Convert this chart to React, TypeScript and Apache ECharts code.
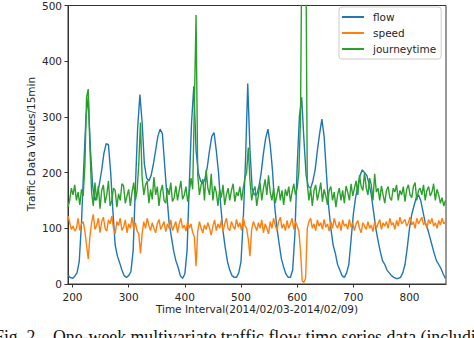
import React, { useEffect, useRef } from "react";
import * as echarts from "echarts";

// Time index (15-min intervals). Flow read every 4 intervals, speed / journeytime every 3.
const X_START = 192;
const FLOW_STEP = 4;
const NOISY_STEP = 3;

const xTicks = [200, 300, 400, 500, 600, 700, 800];

const flow = [
  15, 12, 10, 14, 20, 40, 110, 210, 300, 335,
  240, 175, 150, 160, 180, 205, 235, 252, 250, 200,
  130, 70, 50, 38, 25, 15, 12, 15, 22, 60,
  175, 280, 340, 290, 215, 190, 185, 195, 215, 240,
  265, 278, 270, 215, 160, 110, 85, 60, 42, 30,
  15, 10, 18, 60, 180, 290, 355, 240, 200, 185,
  180, 190, 210, 240, 265, 272, 240, 200, 140, 95,
  65, 40, 25, 15, 12, 12, 20, 40, 115, 220,
  360, 240, 170, 160, 160, 175, 200, 235, 262, 278,
  250, 205, 140, 100, 72, 45, 30, 18, 12, 12,
  25, 90, 210, 300, 335, 260, 195, 175, 172, 185,
  205, 240, 270, 296, 265, 200, 140, 100, 70, 55,
  35, 25, 15, 12, 20, 35, 80, 125, 155, 175,
  195, 205, 200, 195, 180, 160, 130, 100, 78, 58,
  42, 35, 25, 20, 15, 12, 10, 10, 12, 20,
  35, 65, 100, 125, 140, 155, 160, 150, 130, 110,
  100, 85, 70, 55, 42, 35, 28, 18, 10,
];

const speed = [
  122, 110, 98, 104, 95, 100, 118, 96, 108, 112,
  95, 70, 45, 85, 110, 125, 98, 105, 118, 92,
  112, 120, 100, 95, 115, 108, 122, 100, 90, 112,
  105, 118, 96, 102, 115, 92, 108, 100, 120, 98,
  110, 95, 90, 55, 90, 112, 100, 118, 105, 96,
  110, 100, 92, 108, 116, 98, 105, 112, 94, 108,
  100, 115, 96, 104, 112, 92, 108, 118, 100, 106,
  95, 112, 100, 108, 92, 85, 32, 95, 112, 100,
  92, 106, 98, 110, 100, 88, 104, 115, 96, 108,
  100, 114, 94, 108, 118, 100, 96, 112, 104, 98,
  116, 102, 110, 96, 120, 105, 100, 80, 50, 98,
  112, 104, 96, 110, 100, 115, 92, 108, 100, 90,
  112, 100, 118, 106, 96, 112, 120, 100, 108, 96,
  114, 100, 108, 118, 98, 112, 104, 95, 60, 5,
  3, 10, 100, 112, 118, 100, 108, 96, 115, 104,
  110, 98, 116, 102, 108, 95, 112, 100, 118, 106,
  100, 112, 96, 115, 104, 108, 98, 116, 102, 110,
  96, 108, 114, 100, 92, 110, 104, 98, 112, 100,
  106, 94, 112, 100, 108, 116, 98, 110, 104, 112,
  100, 118, 106, 110, 98, 114, 104, 120, 108, 112,
  116, 104, 110, 120, 106, 112, 100, 118, 108, 114,
  120, 106, 112, 100, 116, 108, 118, 104, 110, 100,
  114, 106, 118, 108, 112,
];

const journeytime = [
  138, 150, 172, 160, 178, 150, 165, 142, 170, 158,
  210, 335, 350, 245, 165, 140, 182, 150, 176, 135,
  168, 178, 145, 160, 185, 140, 150, 172, 168, 138,
  162, 150, 180, 176, 145, 158, 170, 140, 165, 182,
  150, 168, 215, 290, 190, 160, 178, 185, 145, 170,
  152, 192, 160, 175, 140, 166, 178, 150, 145, 172,
  160, 182, 148, 155, 176, 150, 168, 185, 152, 160,
  175, 148, 165, 190, 170, 320, 483, 195, 160, 178,
  188, 150, 205, 172, 160, 198, 150, 176, 165, 140,
  170, 155, 178, 142, 160, 172, 150, 168, 180, 148,
  165, 158, 175, 150, 172, 190, 200, 245, 185, 150,
  168, 175, 140, 160, 182, 150, 172, 188, 160, 195,
  165, 150, 172, 145, 160, 176, 150, 168, 142, 170,
  158, 175, 148, 165, 180, 160, 172, 200, 300, 700,
  900, 700, 180, 150, 172, 140, 168, 178, 150, 165,
  182, 148, 170, 158, 142, 168, 175, 150, 165, 138,
  160, 172, 150, 168, 145, 176, 165, 150, 180, 158,
  172, 185, 160, 195, 175, 168, 200, 172, 160, 190,
  178, 150, 198, 165, 172, 150, 176, 160, 145, 168,
  175, 155, 150, 172, 165, 178, 150, 168, 160, 175,
  148, 170, 178, 160, 155, 175, 182, 150, 168, 172,
  160, 178, 150, 168, 175, 158, 165, 180, 150, 170,
  160, 145, 155, 140, 150,
];

const seriesNames = ["flow", "speed", "journeytime"];
const seriesColors = ["#1f77b4", "#ff7f0e", "#2ca02c"];
const seriesValues = [flow, speed, journeytime];
const seriesSteps = [FLOW_STEP, NOISY_STEP, NOISY_STEP];

const toPairs = (vals: number[], step: number) =>
  vals.map((v, i) => [X_START + i * step, v]);

const FONT = "DejaVu Sans";
const AXIS_COLOR = "#333";
const TEXT_COLOR = "#262626";

export default function App() {
  const ref = useRef<HTMLDivElement>(null);

  useEffect(() => {
    if (!ref.current) return;
    const chart = echarts.init(ref.current, null, { renderer: "svg" });
    chart.setOption({
      animation: false,
      backgroundColor: "#fff",
      grid: {
        left: 68,
        right: 28,
        top: 3.5,
        bottom: 54,
        show: true,
        borderColor: AXIS_COLOR,
        borderWidth: 1,
        backgroundColor: "transparent",
      },
      legend: {
        orient: "vertical",
        left: 339,
        top: 7,
        padding: [4, 5, 4, 3],
        itemWidth: 22,
        itemHeight: 2,
        itemGap: 4,
        icon: "rect",
        backgroundColor: "rgba(255,255,255,0.85)",
        borderColor: "#cccccc",
        borderWidth: 1,
        borderRadius: 3,
        textStyle: {
          fontFamily: FONT,
          fontSize: 10.5,
          color: TEXT_COLOR,
          lineHeight: 12,
          padding: [0, 0, 0, 4],
        },
        data: seriesNames,
      },
      xAxis: {
        type: "value",
        min: 192,
        max: 865,
        splitLine: { show: false },
        axisLine: { show: true, onZero: false, lineStyle: { color: AXIS_COLOR, width: 1 } },
        axisTick: {
          show: true,
          inside: false,
          length: 3.5,
          customValues: xTicks,
          lineStyle: { color: AXIS_COLOR, width: 1 },
        },
        axisLabel: {
          customValues: xTicks,
          margin: 7,
          fontFamily: FONT,
          fontSize: 10.5,
          color: TEXT_COLOR,
        },
      },
      yAxis: {
        type: "value",
        min: 0,
        max: 500,
        interval: 100,
        splitLine: { show: false },
        axisLine: { show: true, onZero: false, lineStyle: { color: AXIS_COLOR, width: 1 } },
        axisTick: {
          show: true,
          inside: false,
          length: 3.5,
          lineStyle: { color: AXIS_COLOR, width: 1 },
        },
        axisLabel: {
          margin: 6,
          fontFamily: FONT,
          fontSize: 10.5,
          color: TEXT_COLOR,
        },
      },
      series: seriesNames.map((name, k) => ({
        name,
        type: "line",
        data: toPairs(seriesValues[k], seriesSteps[k]),
        showSymbol: false,
        symbol: "none",
        clip: true,
        color: seriesColors[k],
        lineStyle: { color: seriesColors[k], width: 1.4 },
        z: 2 + k,
      })),
      graphic: [
        {
          type: "text",
          x: 31,
          y: 144,
          rotation: Math.PI / 2,
          style: {
            text: "Traffic Data Values/15min",
            fontFamily: FONT,
            fontSize: 10.5,
            fill: TEXT_COLOR,
            align: "center",
            verticalAlign: "middle",
          },
        },
        {
          type: "text",
          x: 257,
          y: 309,
          style: {
            text: "Time Interval(2014/02/03-2014/02/09)",
            fontFamily: FONT,
            fontSize: 10.5,
            fill: TEXT_COLOR,
            align: "center",
            verticalAlign: "middle",
          },
        },
        {
          type: "text",
          x: -6,
          y: 337,
          style: {
            text: "Fig. 2.",
            fontFamily: "Liberation Serif",
            fontSize: 17.8,
            fill: "#111",
            align: "left",
            verticalAlign: "middle",
          },
        },
        {
          type: "text",
          x: 53,
          y: 337,
          style: {
            text: "One-week multivariate traffic flow time series data (including",
            fontFamily: "Liberation Serif",
            fontSize: 17.8,
            fill: "#111",
            align: "left",
            verticalAlign: "middle",
          },
        },
      ],
    });
    return () => chart.dispose();
  }, []);

  return (
    <div
      ref={ref}
      style={{ position: "absolute", left: 0, top: 0, width: 474, height: 338, overflow: "hidden" }}
    />
  );
}
